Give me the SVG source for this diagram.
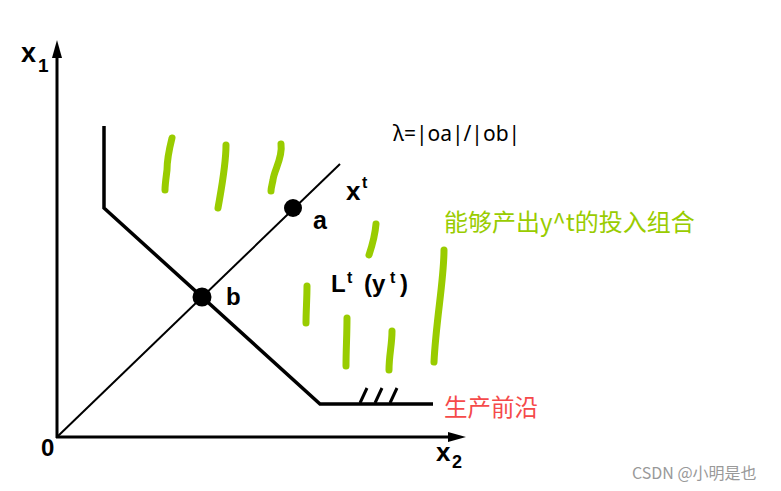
<svg xmlns="http://www.w3.org/2000/svg" width="781" height="491" viewBox="0 0 781 491">
<style>
.lbl{font-family:"Liberation Sans",Arial,sans-serif;font-weight:bold;fill:#000}
.cn{font-family:"Noto Sans CJK SC","Noto Sans",sans-serif}
.g{fill:none;stroke:#99cc00;stroke-width:7;stroke-linecap:round;stroke-linejoin:round}
.ax{stroke:#000;stroke-width:3;fill:none}
</style>
<rect width="781" height="491" fill="#fff"/>
<g id="connectors">
<path class="ax" d="M57,438 V52"/>
<polygon points="57,40 52,58 62,58" fill="#000"/>
<path class="ax" d="M56,437 H450"/>
<polygon points="466,437 448,432 448,442" fill="#000"/>
<path d="M57,437 L340,164" stroke="#000" stroke-width="2" fill="none"/>
<path d="M104,126 V208 L320,404 H433" stroke="#000" stroke-width="3.5" fill="none" stroke-linejoin="miter"/>
<path d="M360,403 L367,388 M375,403 L382,388 M390,403 L397,388" stroke="#000" stroke-width="3" fill="none"/>
</g>
<g id="hatch">
<path class="g" d="M172,138 C169,150 167,160 167,170 C166,178 165,185 165,190"/>
<path class="g" d="M226,145 C226,165 222,185 218,208"/>
<path class="g" d="M281,144 C283,158 274,170 273,180 C272,185 271,188 271,191"/>
<path class="g" d="M376,224 C375,236 372,246 369,255"/>
<path class="g" d="M307,286 C307,298 306,312 306,323"/>
<path class="g" d="M347,318 C347,335 346,350 346,366"/>
<path class="g" d="M392,331 C392,345 389,355 389,370"/>
<path class="g" d="M444,250 C444,280 436,320 434,362"/>
</g>
<g id="point-a">
<circle cx="293" cy="208" r="9" fill="#000"/>
<text class="lbl" x="313" y="229" font-size="25">a</text>
</g>
<g id="point-b">
<circle cx="202" cy="297" r="9.5" fill="#000"/>
<text class="lbl" x="226" y="305" font-size="24">b</text>
</g>
<g id="labels">
<text class="lbl" x="21" y="62" font-size="27">x</text>
<text class="lbl" x="38" y="72" font-size="19">1</text>
<text class="lbl" x="41" y="456" font-size="24">0</text>
<text class="lbl" x="436" y="461" font-size="26">x</text>
<text class="lbl" x="452" y="468" font-size="18">2</text>
<text class="lbl" x="346" y="200" font-size="26">x</text>
<text class="lbl" x="362" y="188" font-size="16">t</text>
<text class="lbl" x="331" y="292" font-size="24">L</text>
<text class="lbl" x="347" y="283" font-size="16">t</text>
<text class="lbl" x="364" y="292" font-size="24">(y</text>
<text class="lbl" x="390" y="283" font-size="16">t</text>
<text class="lbl" x="400" y="292" font-size="24">)</text>
<text x="393" y="141" font-size="21" font-family="Noto Sans, sans-serif" fill="#000">λ=|oa|/|ob|</text>
<text class="cn" x="444" y="231" font-size="24" fill="#99cc00">能够产出y^t的投入组合</text>
<text class="cn" x="444" y="416" font-size="23.5" fill="#f54a4a">生产前沿</text>
<text class="cn" x="632" y="479" font-size="16" fill="#999">CSDN @小明是也</text>
</g>
</svg>
